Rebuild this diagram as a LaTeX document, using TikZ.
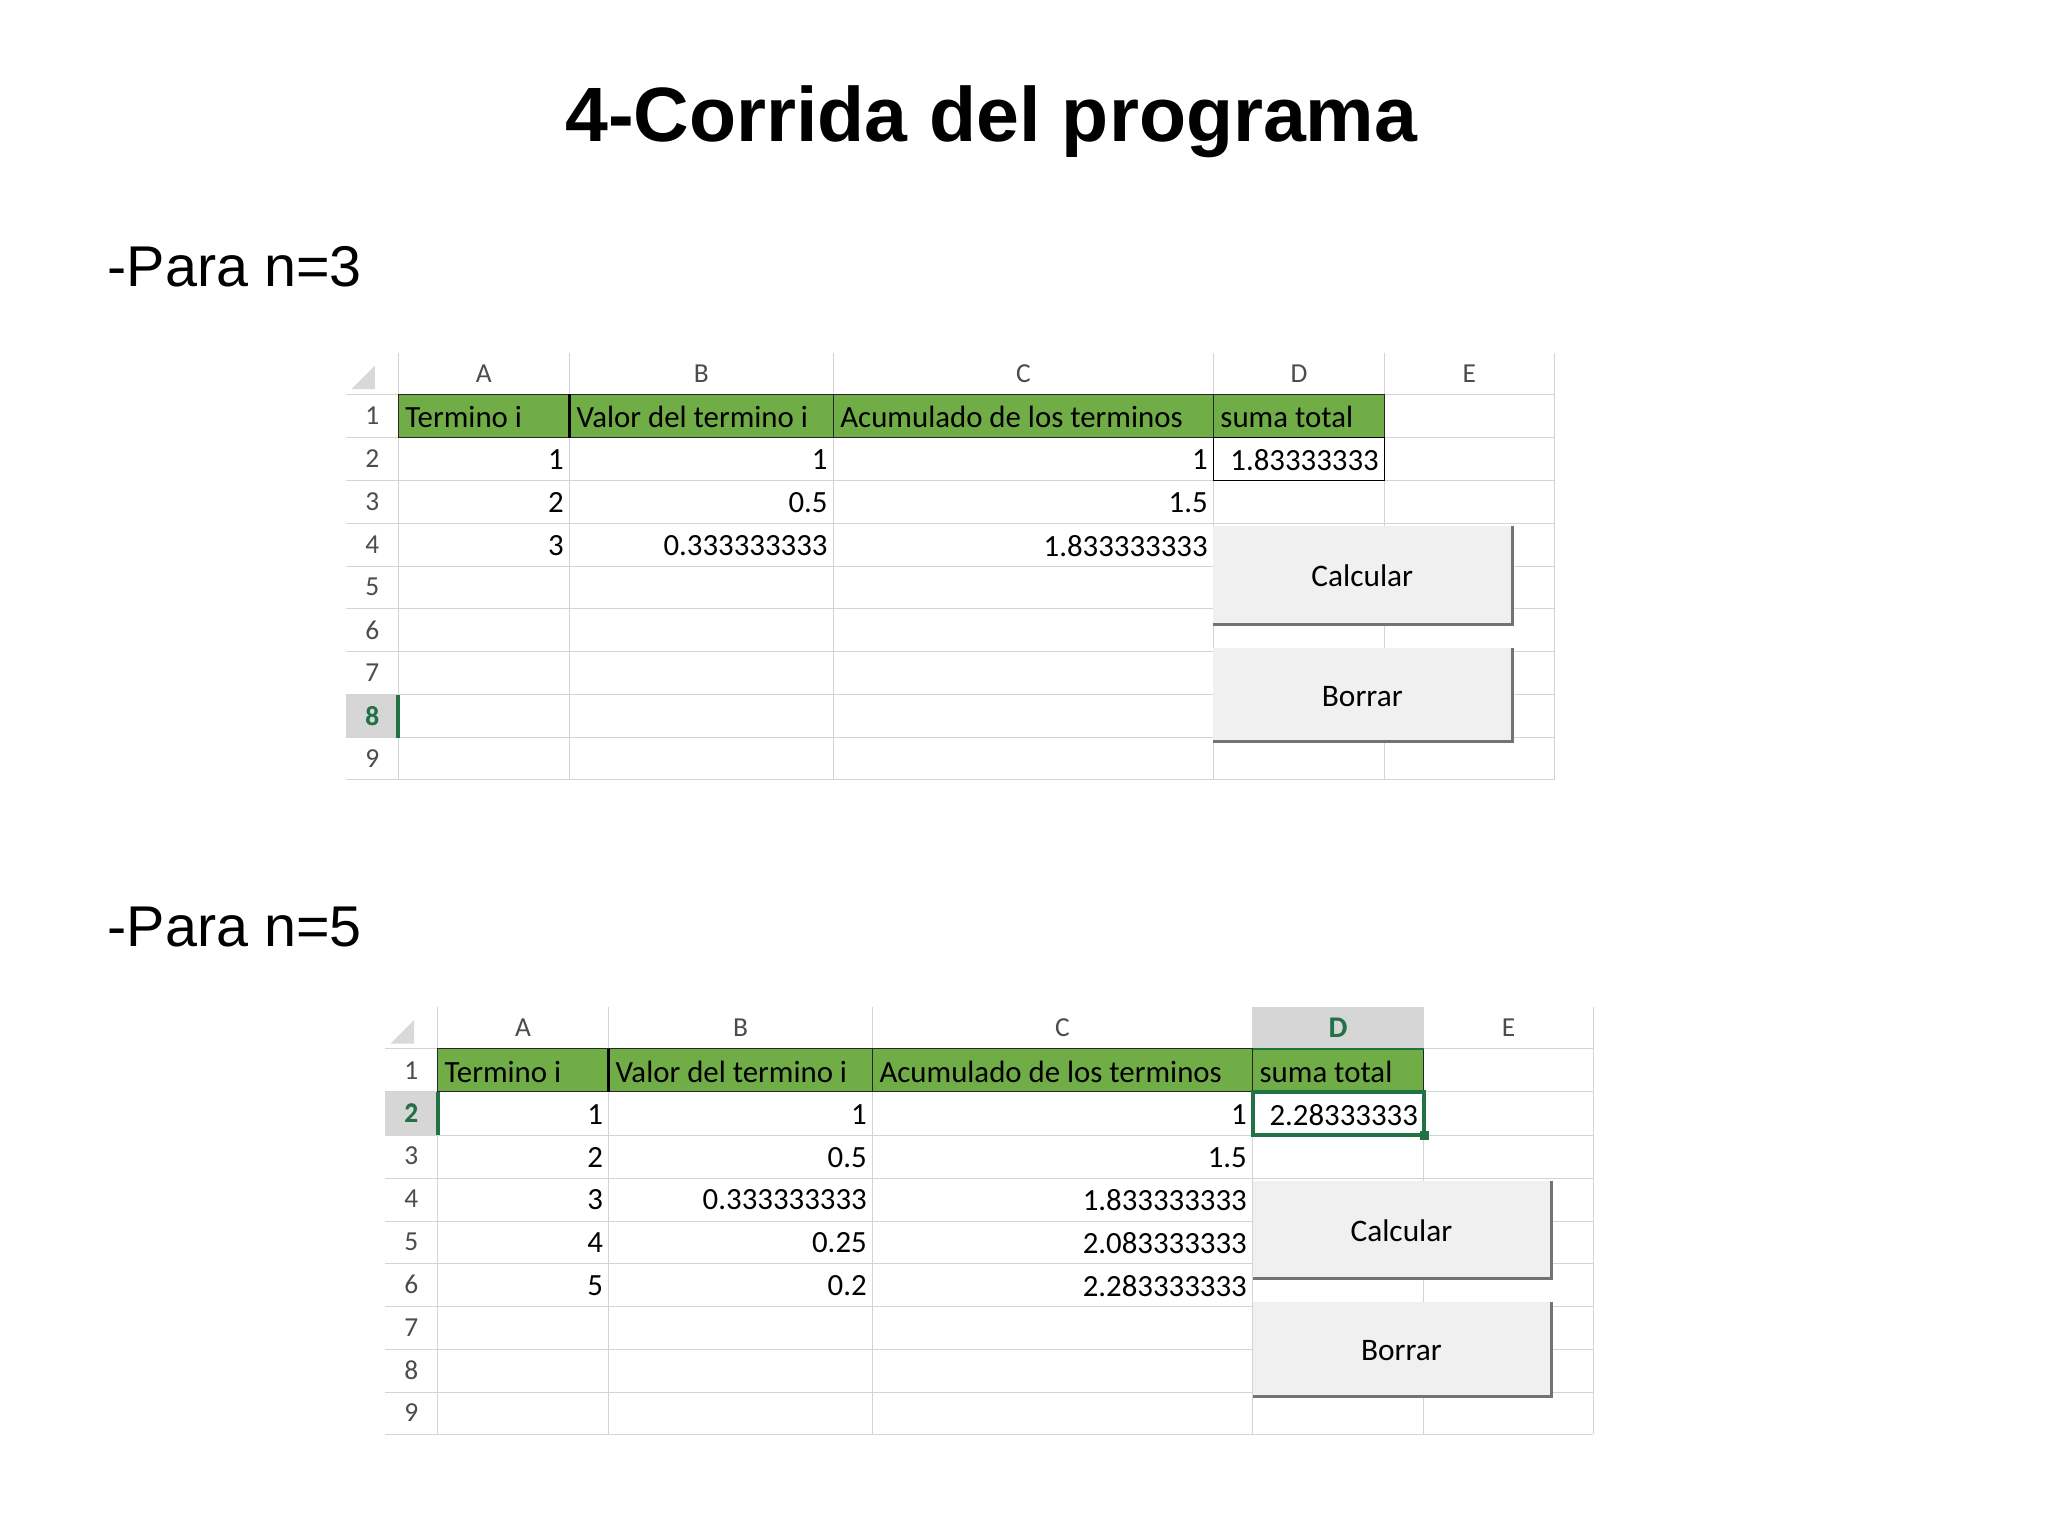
\documentclass[tikz,border=0pt]{standalone}
\usepackage{fontspec}
\setmainfont{Liberation Sans}
\newfontfamily\xl{Carlito}
\definecolor{xgreen}{HTML}{70AD47}
\definecolor{xgrid}{HTML}{D4D4D4}
\definecolor{xsel}{HTML}{217346}
\definecolor{xhdr}{HTML}{D6D6D6}
\tikzset{
 cell/.style={font=\xl\fontsize{11.8}{13}\selectfont, inner sep=0pt, anchor=east},
 lcell/.style={font=\xl\fontsize{11.8}{13}\selectfont, inner sep=0pt, anchor=west},
 hcell/.style={font=\xl\fontsize{10.5}{12}\selectfont, text=black!70, inner sep=0pt},
 btn/.style={fill=black!6, draw=none},
}
\newcommand\mysheet[2]{%
 \foreach \yy in {32,65,98,131,164,196,229,262,295,327}{\draw[xgrid] (0,\yy) -- (925,\yy);}
 \foreach \xx in {40,171,373,664,795,925}{\draw[xgrid] (\xx,0) -- (\xx,327);}
 \fill[black!15] (4,28) -- (22,28) -- (22,10) -- cycle;
 \fill[xgreen] (40,32) rectangle (795,65);
 \draw[black!85] (40,32) rectangle (795,65);
 \foreach \xx in {171,373,664}{\draw[black!85] (\xx,32) -- (\xx,65);}
 \draw[black, line width=1pt] (171,32) -- (171,65);
 \foreach \t/\xx in {A/105.5,B/272,C/518.5,D/729.5,E/860}{\node[hcell] at (\xx,16) {\t};}
 \foreach \r in {1,...,9}{\node[hcell] at (20,{32+(\r-0.5)*32.8}) {\r};}
 \foreach \t/\xx in {Termino i/45,Valor del termino i/176,Acumulado de los terminos/378,suma total/669}{\node[lcell] at (\xx,49.5) {\t};}
}
\newcommand\rowdata[4]{%
 \node[cell] at (167,{33+(#1-0.5)*32.8}) {#2};
 \node[cell] at (369,{33+(#1-0.5)*32.8}) {#3};
 \node[cell] at (660,{33+(#1-0.5)*32.8}) {#4};
}
\newcommand\buttons{%
 \fill[btn] (664,133) rectangle (893,208);
 \draw[black!55, line width=1.2pt] (893,133) -- (893,208) -- (664,208);
 \node[font=\xl\fontsize{12}{14}\selectfont] at (778,171) {Calcular};
 \fill[btn] (664,226) rectangle (893,298);
 \draw[black!55, line width=1.2pt] (893,226) -- (893,298) -- (664,298);
 \node[font=\xl\fontsize{12}{14}\selectfont] at (778,263) {Borrar};
}
\begin{document}
\begin{tikzpicture}[x=0.5pt,y=-0.5pt]
\useasboundingbox[fill=white] (0,0) rectangle (1568,1176);
\node[font=\fontsize{29.5}{34}\selectfont\bfseries] (title) at (759,93) {4-Corrida del programa};
\node[font=\fontsize{22}{26}\selectfont, anchor=west, inner sep=0pt] (p3) at (82,204) {-Para n=3};
\node[font=\fontsize{22}{26}\selectfont, anchor=west, inner sep=0pt] (p5) at (82,710) {-Para n=5};
\begin{scope}[shift={(265,270)}]
 \fill[xhdr] (0,262) rectangle (40,295);
 \mysheet{3}{0}
 \node[hcell, text=xsel, font=\xl\bfseries\fontsize{10.5}{12}\selectfont] at (20,{32+7.5*32.8}) {8};
 \draw[xsel, line width=1.5pt] (40,262) -- (40,295);
 \rowdata{2}{1}{1}{1}
 \rowdata{3}{2}{0.5}{1.5}
 \rowdata{4}{3}{0.333333333}{1.833333333}
 \draw[black] (664,65) rectangle (795,98);
 \node[cell] at (791,82.5) {1.83333333};
 \buttons
\end{scope}
\begin{scope}[shift={(295,771)}]
 \fill[xhdr] (0,65) rectangle (40,98);
 \fill[xhdr] (664,0) rectangle (795,32);
 \mysheet{5}{1}
 \node[hcell, text=xsel, font=\xl\bfseries\fontsize{10.5}{12}\selectfont] at (20,81.5) {2};
 \node[hcell, text=xsel, font=\xl\bfseries\fontsize{11.5}{12}\selectfont] at (729.5,16) {D};
 \draw[xsel, line width=1.5pt] (40,65) -- (40,98);
 \draw[xsel, line width=1pt] (664,32) -- (795,32);
 \rowdata{2}{1}{1}{1}
 \rowdata{3}{2}{0.5}{1.5}
 \rowdata{4}{3}{0.333333333}{1.833333333}
 \rowdata{5}{4}{0.25}{2.083333333}
 \rowdata{6}{5}{0.2}{2.283333333}
 \draw[xsel, line width=1.5pt] (664,65) rectangle (795,98);
 \fill[xsel] (792,95) rectangle (799,102);
 \node[cell] at (791,82.5) {2.28333333};
 \buttons
\end{scope}
\end{tikzpicture}
\end{document}
